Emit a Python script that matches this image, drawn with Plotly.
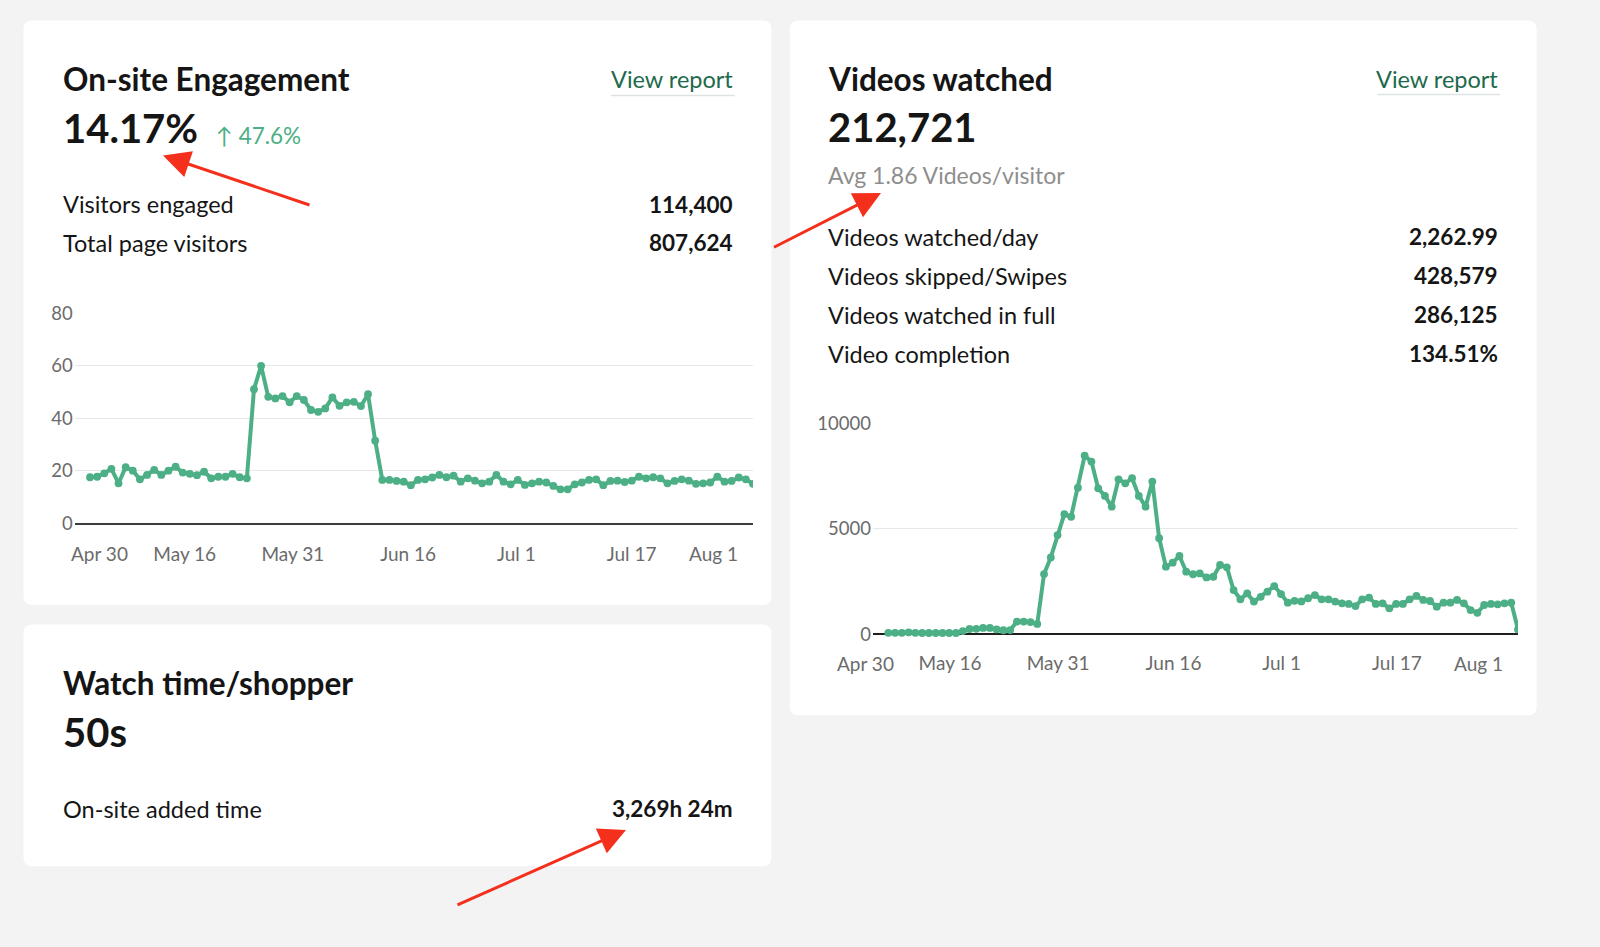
import plotly.graph_objects as go
import pandas as pd

W, H = 1600, 947

# ---------------- data ----------------
tick_labels = ["Apr 30", "May 16", "May 31", "Jun 16", "Jul 1", "Jul 17", "Aug 1"]
tick_dates = ["2023-04-30", "2023-05-16", "2023-05-31", "2023-06-16",
              "2023-07-01", "2023-07-17", "2023-08-01"]

engagement_dates = pd.date_range("2023-05-02", periods=94, freq="D")
engagement_pct = [
    17.6, 17.8, 19.1, 20.8, 15.3, 21.4, 20.1, 16.8, 18.5, 20.4, 18.5, 20.1,
    21.6, 19.4, 18.9, 18.4, 19.7, 17.2, 17.8, 17.8, 18.9, 17.6, 17.2,
    51.1, 60.0, 48.2, 47.6, 48.5, 46.1, 48.5, 47.0, 43.2, 42.5, 43.8, 48.0,
    44.8, 46.1, 46.3, 44.7, 49.2, 31.5,
    16.6, 16.6, 16.2, 15.9, 14.6, 16.6, 16.8, 17.5, 18.5, 17.6, 18.2, 15.9,
    17.2, 16.3, 15.3, 15.9, 18.5, 15.9, 14.9, 16.6, 14.7, 15.3, 15.9, 15.6,
    14.3, 13.0, 13.0, 14.9, 15.6, 16.6, 16.8, 14.6, 16.2, 16.3, 15.8, 16.3,
    17.8, 17.2, 17.6, 17.2, 15.3, 16.2, 16.8, 16.3, 15.1, 15.3, 15.6, 17.8,
    15.9, 16.2, 17.5, 16.8, 15.1,
]

videos_dates = pd.date_range("2023-05-02", periods=94, freq="D")
videos_watched = [
    60, 60, 60, 80, 60, 50, 50, 50, 50, 50, 50,
    140, 240, 250, 290, 290, 220, 180, 190, 590, 590, 570, 480,
    2850, 3640, 4700, 5700, 5570, 6950, 8470, 8190, 6920, 6560, 6050, 7350,
    7160, 7400, 6560, 6050, 7240, 4550, 3200, 3390, 3710, 2960, 2840, 2880,
    2690, 2720, 3280, 3170,
    2090, 1650, 1930, 1540, 1770, 2010, 2280, 1900, 1490, 1580, 1550, 1700,
    1850, 1650, 1650, 1540, 1460, 1430, 1330, 1650, 1730, 1430, 1460, 1220,
    1430, 1430, 1650, 1810, 1620, 1570, 1300, 1490, 1490, 1620, 1460, 1140,
    1010, 1380, 1430, 1410, 1460, 1490, 220,
]

engagement_title = "On-site Engagement"
engagement_value = "14.17%"
engagement_delta = "↑ 47.6%"
engagement_row_labels = ["Visitors engaged", "Total page visitors"]
engagement_row_values = ["114,400", "807,624"]

videos_title = "Videos watched"
videos_value = "212,721"
videos_sub = "Avg 1.86 Videos/visitor"
videos_row_labels = ["Videos watched/day", "Videos skipped/Swipes",
                     "Videos watched in full", "Video completion"]
videos_row_values = ["2,262.99", "428,579", "286,125", "134.51%"]

watch_title = "Watch time/shopper"
watch_value = "50s"
watch_row_labels = ["On-site added time"]
watch_row_values = ["3,269h 24m"]

eng_yticks = [0, 20, 40, 60, 80]
vid_yticks = [0, 5000, 10000]

# ---------------- styling / geometry ----------------
FONT = "Lato"
GREEN = "#4caf85"
DARK = "#151515"
TICK_C = "#6b6b6b"
GRID_C = "#e8e8e8"
RED = "#f4301d"


def fx(px):
    return px / W


def fy(py):
    return 1 - py / H


day = pd.Timedelta(days=1)
t0 = pd.Timestamp(tick_dates[0])
PX_DAY = 7.208          # spacing of the date labels in the source picture
LBL1_X = 69.4           # pixel of the first label date, chart 1
LBL2_X = 834.7          # pixel of the first label date, chart 2

fig = go.Figure()

fig.add_trace(go.Scatter(
    x=engagement_dates, y=engagement_pct, xaxis="x", yaxis="y",
    mode="lines+markers", line=dict(color=GREEN, width=4),
    marker=dict(color=GREEN, size=7.8), showlegend=False,
    hovertemplate="%{x|%b %d}: %{y}%<extra></extra>"))
fig.add_trace(go.Scatter(
    x=videos_dates, y=videos_watched, xaxis="x2", yaxis="y2",
    mode="lines+markers", line=dict(color=GREEN, width=4),
    marker=dict(color=GREEN, size=7.8), showlegend=False,
    hovertemplate="%{x|%b %d}: %{y}<extra></extra>"))
# placeholders so the date-label axes are drawn
fig.add_trace(go.Scatter(x=tick_dates, y=[None] * len(tick_dates), xaxis="x3",
                         yaxis="y3", showlegend=False, hoverinfo="skip"))
fig.add_trace(go.Scatter(x=tick_dates, y=[None] * len(tick_dates), xaxis="x4",
                         yaxis="y4", showlegend=False, hoverinfo="skip"))

tickfont = dict(family=FONT, size=19, color=TICK_C)
ytickfont = dict(family=FONT, size=18.5, color=TICK_C)

x1_l, x1_r = 74.7, 753
x2_l, x2_r = 873, 1518
y1_dom = [fy(523.5), fy(313.3)]
y2_dom = [fy(637.2), fy(423.5)]

data_axis = dict(showgrid=False, zeroline=False, showline=False,
                 showticklabels=False, ticks="", type="date", fixedrange=True)
label_axis = dict(showgrid=False, zeroline=False, showline=False, ticks="",
                  type="date", tickvals=tick_dates[1:-1],
                  ticktext=tick_labels[1:-1], tickfont=tickfont,
                  fixedrange=True)
hidden_y = dict(visible=False, range=[0, 1], fixedrange=True)

lbl1_l, lbl2_l = 58, 826
fig.update_layout(
    width=W, height=H,
    margin=dict(l=0, r=0, t=0, b=0, autoexpand=False),
    paper_bgcolor="#f3f3f3", plot_bgcolor="rgba(0,0,0,0)",
    font=dict(family=FONT, color=DARK),
    xaxis=dict(domain=[fx(x1_l), fx(x1_r)], anchor="y",
               range=[engagement_dates[0] - 2.15 * day, engagement_dates[-1]],
               **data_axis),
    yaxis=dict(domain=y1_dom, anchor="x", range=[0, 80],
               tickvals=eng_yticks, gridcolor=GRID_C, gridwidth=1,
               zeroline=True, zerolinecolor="#3c3c3c", zerolinewidth=1.6,
               showline=False, ticks="", tickfont=ytickfont,
               ticklabelstandoff=1, fixedrange=True),
    xaxis3=dict(domain=[fx(lbl1_l), fx(x1_r)], anchor="y3",
                range=[t0 + (lbl1_l - LBL1_X) / PX_DAY * day,
                       t0 + (x1_r - LBL1_X) / PX_DAY * day],
                ticklabelstandoff=17, **label_axis),
    yaxis3=dict(domain=y1_dom, anchor="x3", **hidden_y),
    xaxis2=dict(domain=[fx(x2_l), fx(x2_r)], anchor="y2",
                range=[videos_dates[0] - 2.26 * day, videos_dates[-1]],
                **data_axis),
    yaxis2=dict(domain=y2_dom, anchor="x2", range=[-150, 10000],
                tickvals=vid_yticks, ticktext=[str(v) for v in vid_yticks],
                gridcolor=GRID_C, gridwidth=1,
                zeroline=True, zerolinecolor="#1e1e1e", zerolinewidth=1.6,
                showline=False, ticks="", tickfont=ytickfont,
                ticklabelstandoff=1, fixedrange=True),
    xaxis4=dict(domain=[fx(lbl2_l), fx(x2_r)], anchor="y4",
                range=[t0 + (lbl2_l - LBL2_X) / PX_DAY * day,
                       t0 + (x2_r - LBL2_X) / PX_DAY * day],
                ticklabelstandoff=13, **label_axis),
    yaxis4=dict(domain=y2_dom, anchor="x4", **hidden_y),
)


# ---------------- cards ----------------
def rounded_rect(x0, y0, x1, y1, r=9):
    X0, X1 = fx(x0), fx(x1)
    Y0, Y1 = fy(y0), fy(y1)  # Y0 top (larger), Y1 bottom
    rx, ry = r / W, r / H
    return (f"M {X0 + rx},{Y0} L {X1 - rx},{Y0} Q {X1},{Y0} {X1},{Y0 - ry} "
            f"L {X1},{Y1 + ry} Q {X1},{Y1} {X1 - rx},{Y1} L {X0 + rx},{Y1} "
            f"Q {X0},{Y1} {X0},{Y1 + ry} L {X0},{Y0 - ry} Q {X0},{Y0} {X0 + rx},{Y0} Z")


shapes = []
for (a, b, c, d) in [(23.5, 20.4, 771.4, 605.1), (789.8, 20.4, 1536.7, 715.3),
                     (23.5, 624.5, 771.4, 866.3)]:
    shapes.append(dict(type="path", path=rounded_rect(a, b, c, d), xref="paper",
                       yref="paper", fillcolor="white", line=dict(width=0),
                       layer="below"))
# "View report" underlines
for (a, b, yy) in [(611, 734.7, 95.5), (1377.5, 1500, 94.5)]:
    shapes.append(dict(type="line", xref="paper", yref="paper", x0=fx(a), x1=fx(b),
                       y0=fy(yy), y1=fy(yy), line=dict(color="#dde2e4", width=1.6)))
fig.update_layout(shapes=shapes)

ann = []


def txt(s, x, y, size, color=DARK, anchor="left", weight=400):
    ann.append(dict(text=s, x=fx(x), y=fy(y), xref="paper", yref="paper",
                    xanchor=anchor, yanchor="middle", showarrow=False,
                    font=dict(family=FONT, size=size, color=color, weight=weight)))


L1, R1 = 61, 734.7
L2, R2 = 825.6, 1500
# card 1
txt(engagement_title, L1, 78.5, 31.5, weight=700)
txt("View report", R1, 79, 23.5, color="#1d6a4b", anchor="right")
txt(engagement_value, L1, 128, 40, weight=700)
txt(engagement_delta, 214, 135, 22.5, color=GREEN, weight=400)
for i, (lab, val) in enumerate(zip(engagement_row_labels, engagement_row_values)):
    yy = 204 + i * 38.8
    txt(lab, L1, yy, 23.5)
    txt(val, R1, yy, 22.5, anchor="right", weight=700)

# card 2
txt(videos_title, L2, 78.5, 31.5, weight=700)
txt("View report", R2, 79, 23.5, color="#1d6a4b", anchor="right")
txt(videos_value, L2, 127.5, 40, weight=700)
txt(videos_sub, L2, 174.5, 23, color="#8e8e8e")
for i, (lab, val) in enumerate(zip(videos_row_labels, videos_row_values)):
    yy = 236.5 + i * 39.1
    txt(lab, L2, yy, 23.5)
    txt(val, R2, yy, 22.5, anchor="right", weight=700)

# card 3
txt(watch_title, L1, 682.5, 31.5, weight=700)
txt(watch_value, L1, 732, 40, weight=700)
for lab, val in zip(watch_row_labels, watch_row_values):
    txt(lab, L1, 808.5, 23.5)
    txt(val, R1, 808.5, 22.5, anchor="right", weight=700)

# first / last date labels (edge aligned, as in the source chart)
for xr, yr, sh in [("x3", "y3", -30), ("x4", "y4", -26)]:
    ann.append(dict(text=tick_labels[0], x=tick_dates[0], xref=xr, y=0, yref=yr + " domain",
                    yshift=sh, xanchor="left", yanchor="middle", showarrow=False,
                    font=tickfont))
    ann.append(dict(text=tick_labels[-1], x=tick_dates[-1], xref=xr, y=0, yref=yr + " domain",
                    yshift=sh, xanchor="right", yanchor="middle", showarrow=False,
                    font=tickfont))

# red callout arrows (head, tail) in pixels
for (hx, hy, tx, ty) in [(163, 155.5, 311, 205.5), (881, 193, 772.5, 248),
                         (626, 830, 456, 905.5)]:
    ann.append(dict(text="", x=fx(hx), y=fy(hy), xref="paper", yref="paper",
                    ax=tx - hx, ay=ty - hy, axref="pixel", ayref="pixel",
                    showarrow=True, arrowhead=2, arrowsize=1.8, arrowwidth=3,
                    arrowcolor=RED, standoff=0))

fig.update_layout(annotations=ann)
fig.write_html("out.html", config={"displayModeBar": False},
               post_script="document.body.style.margin='0';"
                           "document.body.style.background='#f3f3f3';")
